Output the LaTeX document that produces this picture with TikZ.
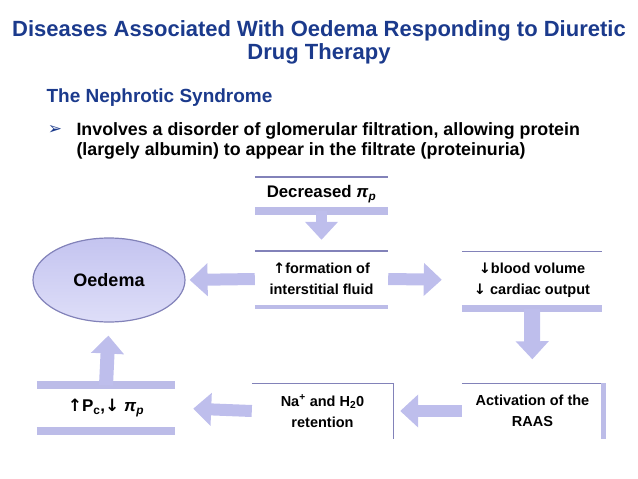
\documentclass[tikz,border=0pt]{standalone}
\usepackage{fontspec}
\setmainfont{Liberation Sans}
\newfontfamily\symfont{DejaVu Sans}
\usetikzlibrary{arrows.meta,shapes.geometric}

\definecolor{titleblue}{RGB}{27,58,140}
\definecolor{barlav}{RGB}{188,188,232}
\definecolor{linelav}{RGB}{130,130,185}
\definecolor{arrowlav}{RGB}{190,190,236}
\definecolor{ovaltop}{RGB}{196,196,240}
\definecolor{ovalbot}{RGB}{222,222,248}

\newcommand\pip{\textit{π}\textsubscript{\itshape p}}
\newcommand\upar{{\symfont ↑}}
\newcommand\dnar{{\symfont ↓}}

\tikzset{
	stepbox/.style={fill=white, align=center, inner sep=0pt,
		font=\bfseries\fontsize{14.5}{21}\selectfont},
	thinbar/.style={linelav, line width=1.4pt},
	thickbar/.style={barlav, line width=#1},
	bigarrow/.style={arrowlav, line width=#1,
		-{Triangle[length=18pt,width=32pt]}},
	bigarrow/.default=12pt
}

\begin{document}
\begin{tikzpicture}[x=1pt,y=-1pt]
\useasboundingbox (0,0) rectangle (638,479);

% Title
\node[titleblue, align=center, font=\bfseries\fontsize{22}{23}\selectfont] (title) at (319,42)
	{Diseases Associated With Oedema Responding to Diuretic\\Drug Therapy};
\node[titleblue, anchor=west, font=\bfseries\fontsize{19}{21}\selectfont] (sub) at (43,98)
	{The Nephrotic Syndrome};
\node[titleblue, font=\symfont\fontsize{17}{19}\selectfont] (bul) at (55,130) {➢};
\node[anchor=west, align=left, font=\bfseries\fontsize{17.8}{20}\selectfont] (intro) at (73,141)
	{Involves a disorder of glomerular filtration, allowing protein\\(largely albumin) to appear in the filtrate (proteinuria)};

% Boxes
\node[stepbox, minimum width=133, minimum height=34, font=\bfseries\fontsize{16.8}{21}\selectfont]
	(dec) at (321.5,194) {Decreased \pip};
\node[stepbox, minimum width=133, minimum height=56] (form) at (321.5,279)
	{\upar formation of\\interstitial fluid};
\node[stepbox, minimum width=140, minimum height=57] (blood) at (532,280)
	{\dnar blood volume\\\dnar\ cardiac output};
\node[stepbox, minimum width=141, minimum height=55] (raas) at (532.5,411)
	{Activation of the\\RAAS};
\node[stepbox, minimum width=141, minimum height=55] (na) at (322.5,411)
	{Na\textsuperscript{+} and H\textsubscript{2}0\\retention};
\node[stepbox, minimum width=138, minimum height=45, font=\bfseries\fontsize{17}{21}\selectfont]
	(pc) at (106,408) {\upar P\textsubscript{c},\dnar\ \pip};
\node[ellipse, draw=linelav, line width=1.2pt, top color=ovaltop, bottom color=ovalbot,
	minimum width=152, minimum height=84, inner sep=0pt,
	font=\bfseries\fontsize{18}{20}\selectfont] (oed) at (109,280) {Oedema};

% Bars
\draw[thinbar] (dec.north west) -- (dec.north east);
\draw[thickbar=8pt] (dec.south west) -- (dec.south east);
\draw[thinbar] (form.north west) -- (form.north east);
\draw[thickbar=4pt] (form.south west) -- (form.south east);
\draw[thinbar] (blood.north west) -- (blood.north east);
\draw[thickbar=7pt] (blood.south west) -- (blood.south east);
\draw[thinbar] (raas.north west) -- (raas.north east);
\draw[thickbar=5pt] (raas.north east) -- (raas.south east);
\draw[thinbar] (na.north west) -- (na.north east);
\draw[thinbar] (na.north east) -- (na.south east);
\draw[thickbar=8pt] (pc.north west) -- (pc.north east);
\draw[thickbar=8pt] (pc.south west) -- (pc.south east);

% Arrows
\draw[bigarrow=11pt, shorten >=11pt] (dec.south) -- (form.north);
\draw[bigarrow, shorten >=4pt] (form.west) -- (oed.east);
\draw[bigarrow, shorten >=20pt] (form.east) -- (blood.west);
\draw[bigarrow=16pt, shorten >=24pt] (blood.south) -- (raas.north);
\draw[bigarrow, shorten >=7pt] (raas.west) -- (na.east);
\draw[bigarrow, shorten >=18pt] (na.west) -- (pc.east);
\draw[bigarrow=14pt, shorten >=13pt] (pc.north) -- (oed.south);
\end{tikzpicture}
\end{document}
